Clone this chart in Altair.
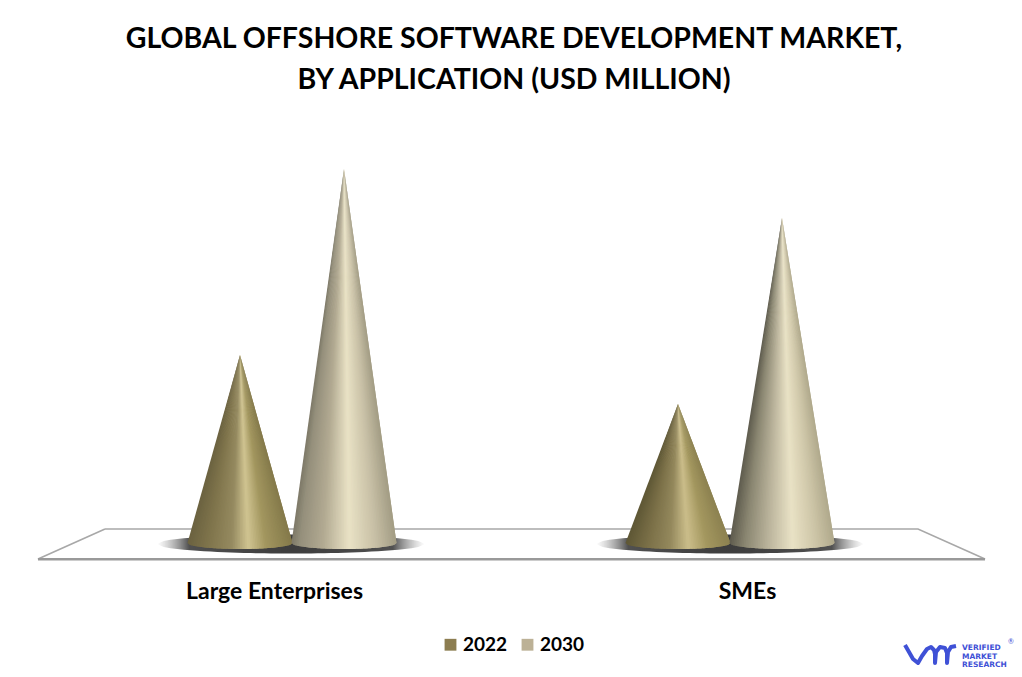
import math
import altair as alt
import pandas as pd

CATEGORIES = ["Large Enterprises", "SMEs"]
YEARS = ["2022", "2030"]
VALUES_2022 = [188, 139]
VALUES_2030 = [374, 325]
CONE_CENTERS = {"2022": [240, 678], "2030": [344, 782]}
CONE_HALF_WIDTH = 52.5
BASE_DEPTH = 6
LABEL_POSITIONS = [274, 747]
GROUP_CENTERS = [291, 730]
YEAR_COLORS = ["#8c7d50", "#bcb196"]

FLOOR_X = [105, 918, 985, 38, 105]
FLOOR_Y = [14, 14, -16, -16, 14]
FLOOR_FRONT_X = [38, 985]
FLOOR_FRONT_Y = [-16.3, -16.3]

STOPS = {
    ("Large Enterprises", "2022"): [(0, "#6b6240"), (0.2, "#80754c"), (0.42, "#958a60"), (0.58, "#d0c491"), (0.75, "#a2965f"), (1, "#84794a")],
    ("Large Enterprises", "2030"): [(0, "#7d7968"), (0.08, "#95907c"), (0.3, "#b2aa92"), (0.55, "#e9e2c5"), (0.8, "#c8c0a6"), (1, "#a29c84")],
    ("SMEs", "2022"): [(0, "#5e5735"), (0.2, "#7a6f47"), (0.42, "#93885c"), (0.6, "#cbbd8a"), (0.78, "#a3975f"), (1, "#8c8150")],
    ("SMEs", "2030"): [(0, "#5f5c4e"), (0.15, "#8b8772"), (0.38, "#bdb69e"), (0.6, "#e9e2c5"), (0.82, "#cec6a8"), (1, "#b0a98c")],
}

N_SECTORS = 60
PLOT_TOP = 110
PLOT_BOTTOM = 669
ZERO_PX = 543


def mix(stops, f):
    for (a, ca), (b, cb) in zip(stops, stops[1:]):
        if f <= b:
            k = (f - a) / (b - a)
            rgb = [round(int(ca[i:i + 2], 16) * (1 - k) + int(cb[i:i + 2], 16) * k) for i in (1, 3, 5)]
            return "#%02x%02x%02x" % tuple(rgb)
    return stops[-1][1]


def base_y(t):
    return -BASE_DEPTH * math.sqrt(max(0, 1 - t * t))


cones, sectors = [], []
for year, vals in zip(YEARS, [VALUES_2022, VALUES_2030]):
    for j, cat in enumerate(CATEGORIES):
        c, v = CONE_CENTERS[year][j], vals[j]
        for o, (dx, yy) in enumerate([(-CONE_HALF_WIDTH, 0), (0, v), (CONE_HALF_WIDTH, 0)]):
            cones.append(dict(year=year, cat=cat, x=c + dx, y=yy, y0=0, o=o))
        for s in range(N_SECTORS):
            t0 = -1 + 2 * s / N_SECTORS
            t1 = min(1, -1 + 2 * (s + 1) / N_SECTORS)
            t2 = min(1, -1 + 2 * (s + 2) / N_SECTORS)
            col = mix(STOPS[(cat, year)], (s + 0.5) / N_SECTORS)
            sid = f"{cat}{year}{s:03d}"
            pts = [(c, v)] + [(c + CONE_HALF_WIDTH * t, base_y(t)) for t in (t0, t1, t2)]
            for o, (px, py) in enumerate(pts):
                sectors.append(dict(sid=sid, col=col, x=px, y=py, o=o))

cone_df = pd.DataFrame(cones)
sector_df = pd.DataFrame(sectors)
floor_df = pd.DataFrame({"x": FLOOR_X, "y": FLOOR_Y, "o": range(5)})
front_df = pd.DataFrame({"x": FLOOR_FRONT_X, "y": FLOOR_FRONT_Y})

shadow_rows = []
for g in GROUP_CENTERS:
    for i in range(41):
        t = -1 + i / 20
        d = 9.5 * math.sqrt(max(0, 1 - t * t))
        shadow_rows.append(dict(g=g, x=g + 134 * t, y=-1 + d, y2=-1 - d))
shadow_df = pd.DataFrame(shadow_rows)

x_scale = alt.Scale(domain=[8, 1014], nice=False, zero=False)
y_scale = alt.Scale(domain=[ZERO_PX - PLOT_BOTTOM, ZERO_PX - PLOT_TOP], nice=False, zero=False)
X = alt.X("x:Q", scale=x_scale, title=None,
          axis=alt.Axis(values=LABEL_POSITIONS, domain=False, ticks=False, grid=False,
                        labelExpr="datum.value < 500 ? 'Large Enterprises' : 'SMEs'",
                        labelFont="Lato", labelFontWeight="bold", labelFontSize=23,
                        labelColor="#000000", labelPadding=-78, labelBaseline="middle", labelFlush=False))
Y = alt.Y("y:Q", scale=y_scale, axis=None)

floor_fill = alt.Chart(floor_df).mark_line(stroke="#a8a8a8", strokeWidth=1.6, fill="#ffffff").encode(
    x=X, y=Y, order="o:Q")
floor_front = alt.Chart(front_df).mark_line(stroke="#999999", strokeWidth=2.4).encode(x=X, y=Y)

shadow = alt.Chart(shadow_df).mark_area(
    color=alt.Gradient(gradient="radial", x1=0.5, y1=0.5, r1=0, x2=0.5, y2=0.5, r2=0.5, stops=[
        alt.GradientStop(color="#3c3c3c", offset=0),
        alt.GradientStop(color="#505050", offset=0.76),
        alt.GradientStop(color="rgba(150,150,150,0)", offset=1),
    ])
).encode(x=X, y=Y, y2="y2:Q", detail="g:N")

base = alt.Chart(cone_df).mark_area().encode(
    x=X, y=Y, y2="y0:Q", order="o:Q", detail="cat:N",
    color=alt.Color("year:N", scale=alt.Scale(domain=YEARS, range=YEAR_COLORS),
                    legend=alt.Legend(orient="none", legendX=433, legendY=525, direction="horizontal",
                                      title=None, symbolType="square", symbolSize=140, symbolStrokeWidth=0,
                                      labelFont="Lato", labelFontWeight="bold", labelFontSize=19,
                                      labelColor="#000000", columnPadding=10, labelOffset=3)))

cone_sectors = alt.Chart(sector_df).mark_line(strokeWidth=0).encode(
    x=X, y=Y, order="o:Q", detail="sid:N",
    fill=alt.Fill("col:N", scale=None, legend=None))

LOGO_X = [905, 909, 913, 918, 922, 927, 931, 934, 935, 935, 936, 940, 945, 947, 947, 948, 951, 956]
LOGO_Y = [645, 652, 659, 663, 656, 649, 647, 650, 654, 663, 652, 647, 648, 653, 663, 652, 647, 646]
logo_df = pd.DataFrame({"x": LOGO_X, "y": [ZERO_PX - p for p in LOGO_Y], "o": range(len(LOGO_X))})
logo = alt.Chart(logo_df).mark_line(color="#3f51d6", strokeWidth=4, strokeJoin="round").encode(
    x=X, y=Y, order="o:Q")

LOGO_WORDS = ["VERIFIED", "MARKET", "RESEARCH"]
logo_text_df = pd.DataFrame({"x": [962] * 3, "y": [ZERO_PX - p for p in (648, 657, 665)], "t": LOGO_WORDS})
logo_text = alt.Chart(logo_text_df).mark_text(
    align="left", baseline="middle", color="#3f51d6", font="DejaVu Sans", fontWeight="bold", fontSize=7.5
).encode(x=X, y=Y, text="t:N")

reg_df = pd.DataFrame({"x": [1011], "y": [ZERO_PX - 642], "t": ["®"]})
reg = alt.Chart(reg_df).mark_text(color="#3f51d6", fontSize=7, font="Lato").encode(x=X, y=Y, text="t:N")

chart = alt.layer(floor_fill, floor_front, shadow, base, cone_sectors, logo, logo_text, reg).properties(
    width=1006, height=PLOT_BOTTOM - PLOT_TOP,
    padding={"left": 0, "right": 0, "top": PLOT_TOP - 8, "bottom": 0},
    autosize=alt.AutoSizeParams(type="none"),
    title=alt.TitleParams(
        ["GLOBAL OFFSHORE SOFTWARE DEVELOPMENT MARKET,", "BY APPLICATION (USD MILLION)"],
        font="Lato", fontWeight="bold", fontSize=28.5, lineHeight=41, color="#000000",
        anchor="middle", dx=3, offset=16),
).configure_view(stroke=None)

chart.save("out.html", embed_options={"renderer": "svg", "actions": False})
